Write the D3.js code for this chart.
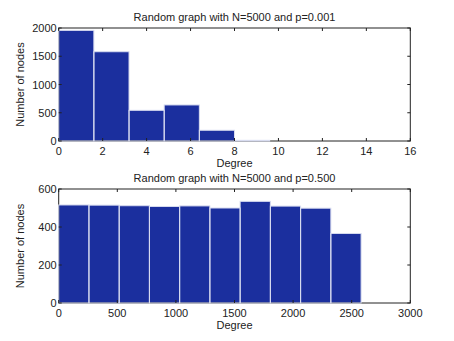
<!DOCTYPE html>
<html>
<head>
<meta charset="utf-8">
<script src="https://cdn.jsdelivr.net/npm/d3@7"></script>
<style>
  body { margin: 0; background: #fff; }
  svg text { font-family: "Liberation Sans", Arial, sans-serif; fill: #222; }
</style>
</head>
<body>
<div id="chart"></div>
<script>
// Histogram data
const topEdges = [0, 1.6, 3.2, 4.8, 6.4, 8, 9.6, 11.2];
const topCounts = [1958, 1580, 543, 638, 190, 12, 0];
const topXTicks = [0, 2, 4, 6, 8, 10, 12, 14, 16];
const topYTicks = [0, 500, 1000, 1500, 2000];

const bottomEdges = [0, 258, 516, 774, 1032, 1290, 1548, 1806, 2064, 2322, 2580];
const bottomCounts = [516, 515, 512, 508, 511, 500, 535, 510, 499, 366];
const bottomXTicks = [0, 500, 1000, 1500, 2000, 2500, 3000];
const bottomYTicks = [0, 200, 400, 600];

const barColor = "#1b2f9e";
const W = 454, H = 341;

const svg = d3.select("#chart").append("svg").attr("width", W).attr("height", H);

function drawPanel(opt) {
  const { top, bottom, left, right, edges, counts, xDomain, yDomain, xTicks, yTicks, title } = opt;
  const x = d3.scaleLinear().domain(xDomain).range([left, right]);
  const y = d3.scaleLinear().domain(yDomain).range([bottom, top]);
  const g = svg.append("g");

  const bins = counts.map((c, i) => ({ x0: edges[i], x1: edges[i + 1], c }));

  g.selectAll("rect.bar").data(bins).join("rect")
    .attr("class", "bar")
    .attr("x", d => x(d.x0)).attr("width", d => x(d.x1) - x(d.x0))
    .attr("y", d => y(d.c)).attr("height", d => y(0) - y(d.c))
    .attr("fill", barColor);

  // axes box
  g.append("rect").attr("x", left).attr("y", top)
    .attr("width", right - left).attr("height", bottom - top)
    .attr("fill", "none").attr("stroke", "#222").attr("stroke-width", 1);

  // white bar edges drawn over the box, like MATLAB
  g.selectAll("rect.edge").data(bins).join("rect")
    .attr("class", "edge")
    .attr("x", d => x(d.x0)).attr("width", d => x(d.x1) - x(d.x0))
    .attr("y", d => y(d.c)).attr("height", d => y(0) - y(d.c))
    .attr("fill", "none").attr("stroke", "#d8dcf0").attr("stroke-width", 1);

  // ticks inside on all four sides
  const tl = 3;
  xTicks.forEach(t => {
    g.append("line").attr("x1", x(t)).attr("x2", x(t)).attr("y1", bottom).attr("y2", bottom - tl).attr("stroke", "#222");
    g.append("line").attr("x1", x(t)).attr("x2", x(t)).attr("y1", top).attr("y2", top + tl).attr("stroke", "#222");
  });
  yTicks.forEach(t => {
    g.append("line").attr("x1", left).attr("x2", left + tl).attr("y1", y(t)).attr("y2", y(t)).attr("stroke", "#222");
    g.append("line").attr("x1", right).attr("x2", right - tl).attr("y1", y(t)).attr("y2", y(t)).attr("stroke", "#222");
  });

  g.selectAll("text.xt").data(xTicks).join("text")
    .attr("class", "xt")
    .attr("x", d => x(d)).attr("y", bottom + 14)
    .attr("text-anchor", "middle").attr("font-size", 11)
    .text(d => d);

  g.selectAll("text.yt").data(yTicks).join("text")
    .attr("class", "yt")
    .attr("x", left - 2).attr("y", d => y(d) + 4)
    .attr("text-anchor", "end").attr("font-size", 11)
    .text(d => d);

  g.append("text").attr("x", (left + right) / 2).attr("y", top - 7)
    .attr("text-anchor", "middle").attr("font-size", 11).text(title);

  g.append("text").attr("x", (left + right) / 2).attr("y", bottom + 26)
    .attr("text-anchor", "middle").attr("font-size", 11).text("Degree");

  g.append("text")
    .attr("transform", `translate(24, ${(top + bottom) / 2}) rotate(-90)`)
    .attr("text-anchor", "middle").attr("font-size", 11).text("Number of nodes");
}

drawPanel({
  top: 28, bottom: 141, left: 58.7, right: 410.3,
  edges: topEdges, counts: topCounts,
  xDomain: [0, 16], yDomain: [0, 2000],
  xTicks: topXTicks, yTicks: topYTicks,
  title: "Random graph with N=5000 and p=0.001"
});

drawPanel({
  top: 189, bottom: 303, left: 58.7, right: 410.3,
  edges: bottomEdges, counts: bottomCounts,
  xDomain: [0, 3000], yDomain: [0, 600],
  xTicks: bottomXTicks, yTicks: bottomYTicks,
  title: "Random graph with N=5000 and p=0.500"
});
</script>
</body>
</html>
